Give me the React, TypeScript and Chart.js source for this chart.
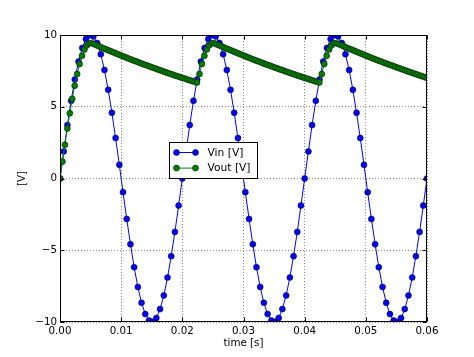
import React, { useEffect, useRef } from 'react';
import { Chart, registerables } from 'chart.js';

Chart.register(...registerables);

// time samples of the input voltage [s]
const vinTime = [
  0, 0.00061, 0.00121, 0.00182, 0.00242, 0.00303, 0.00364, 0.00424, 0.00485, 0.00545,
  0.00606, 0.00667, 0.00727, 0.00788, 0.00848, 0.00909, 0.0097, 0.0103, 0.01091, 0.01152,
  0.01212, 0.01273, 0.01333, 0.01394, 0.01455, 0.01515, 0.01576, 0.01636, 0.01697, 0.01758,
  0.01818, 0.01879, 0.01939, 0.02, 0.02061, 0.02121, 0.02182, 0.02242, 0.02303, 0.02364,
  0.02424, 0.02485, 0.02545, 0.02606, 0.02667, 0.02727, 0.02788, 0.02848, 0.02909, 0.0297,
  0.0303, 0.03091, 0.03152, 0.03212, 0.03273, 0.03333, 0.03394, 0.03455, 0.03515, 0.03576,
  0.03636, 0.03697, 0.03758, 0.03818, 0.03879, 0.03939, 0.04, 0.04061, 0.04121, 0.04182,
  0.04242, 0.04303, 0.04364, 0.04424, 0.04485, 0.04545, 0.04606, 0.04667, 0.04727, 0.04788,
  0.04848, 0.04909, 0.0497, 0.0503, 0.05091, 0.05152, 0.05212, 0.05273, 0.05333, 0.05394,
  0.05455, 0.05515, 0.05576, 0.05636, 0.05697, 0.05758, 0.05818, 0.05879, 0.05939, 0.06,
];

// input voltage [V]
const vinValues = [
  0, 1.89, 3.72, 5.41, 6.9, 8.15, 9.1, 9.72, 9.99, 9.9, 9.45, 8.66, 7.56, 6.18, 4.58, 2.82, 0.95,
  -0.95, -2.82, -4.58, -6.18, -7.56, -8.66, -9.45, -9.9, -9.99, -9.72, -9.1, -8.15, -6.9, -5.41, -3.72, -1.89,
  0, 1.89, 3.72, 5.41, 6.9, 8.15, 9.1, 9.72, 9.99, 9.9, 9.45, 8.66, 7.56, 6.18, 4.58, 2.82, 0.95,
  -0.95, -2.82, -4.58, -6.18, -7.56, -8.66, -9.45, -9.9, -9.99, -9.72, -9.1, -8.15, -6.9, -5.41, -3.72, -1.89,
  0, 1.89, 3.72, 5.41, 6.9, 8.15, 9.1, 9.72, 9.99, 9.9, 9.45, 8.66, 7.56, 6.18, 4.58, 2.82, 0.95,
  -0.95, -2.82, -4.58, -6.18, -7.56, -8.66, -9.45, -9.9, -9.99, -9.72, -9.1, -8.15, -6.9, -5.41, -3.72, -1.89,
  0,
];

// time samples of the output voltage [s]
const voutTime = [
  0, 0.0004, 0.0008, 0.0012, 0.0016, 0.002, 0.0024, 0.0028, 0.0032, 0.0036,
  0.004, 0.0044, 0.0048, 0.0052, 0.0056, 0.006, 0.0064, 0.0068, 0.0072, 0.0076,
  0.008, 0.0084, 0.0088, 0.0092, 0.0096, 0.01, 0.0104, 0.0108, 0.0112, 0.0116,
  0.012, 0.0124, 0.0128, 0.0132, 0.0136, 0.014, 0.0144, 0.0148, 0.0152, 0.0156,
  0.016, 0.0164, 0.0168, 0.0172, 0.0176, 0.018, 0.0184, 0.0188, 0.0192, 0.0196,
  0.02, 0.0204, 0.0208, 0.0212, 0.0216, 0.022, 0.0224, 0.0228, 0.0232, 0.0236,
  0.024, 0.0244, 0.0248, 0.0252, 0.0256, 0.026, 0.0264, 0.0268, 0.0272, 0.0276,
  0.028, 0.0284, 0.0288, 0.0292, 0.0296, 0.03, 0.0304, 0.0308, 0.0312, 0.0316,
  0.032, 0.0324, 0.0328, 0.0332, 0.0336, 0.034, 0.0344, 0.0348, 0.0352, 0.0356,
  0.036, 0.0364, 0.0368, 0.0372, 0.0376, 0.038, 0.0384, 0.0388, 0.0392, 0.0396,
  0.04, 0.0404, 0.0408, 0.0412, 0.0416, 0.042, 0.0424, 0.0428, 0.0432, 0.0436,
  0.044, 0.0444, 0.0448, 0.0452, 0.0456, 0.046, 0.0464, 0.0468, 0.0472, 0.0476,
  0.048, 0.0484, 0.0488, 0.0492, 0.0496, 0.05, 0.0504, 0.0508, 0.0512, 0.0516,
  0.052, 0.0524, 0.0528, 0.0532, 0.0536, 0.054, 0.0544, 0.0548, 0.0552, 0.0556,
  0.056, 0.0564, 0.0568, 0.0572, 0.0576, 0.058, 0.0584, 0.0588, 0.0592, 0.0596,
  0.06,
];

// output voltage [V]
const voutValues = [
  0, 1.18, 2.35, 3.48, 4.55, 5.55, 6.47, 7.28, 7.98, 8.55,
  8.99, 9.28, 9.43, 9.43, 9.36, 9.28, 9.21, 9.13, 9.06, 8.99,
  8.92, 8.85, 8.78, 8.71, 8.64, 8.57, 8.5, 8.43, 8.36, 8.3,
  8.23, 8.17, 8.1, 8.04, 7.97, 7.91, 7.85, 7.78, 7.72, 7.66,
  7.6, 7.54, 7.48, 7.42, 7.36, 7.3, 7.24, 7.18, 7.13, 7.07,
  7.01, 6.96, 6.9, 6.85, 6.79, 6.74, 6.69, 7.28, 7.98, 8.55,
  8.99, 9.28, 9.43, 9.43, 9.36, 9.28, 9.21, 9.13, 9.06, 8.99,
  8.92, 8.85, 8.78, 8.71, 8.64, 8.57, 8.5, 8.43, 8.36, 8.3,
  8.23, 8.17, 8.1, 8.04, 7.97, 7.91, 7.85, 7.78, 7.72, 7.66,
  7.6, 7.54, 7.48, 7.42, 7.36, 7.3, 7.24, 7.18, 7.13, 7.07,
  7.01, 6.96, 6.9, 6.85, 6.79, 6.74, 6.69, 7.28, 7.98, 8.55,
  8.99, 9.28, 9.43, 9.43, 9.36, 9.28, 9.21, 9.13, 9.06, 8.99,
  8.92, 8.85, 8.78, 8.71, 8.64, 8.57, 8.5, 8.43, 8.36, 8.3,
  8.23, 8.17, 8.1, 8.04, 7.97, 7.91, 7.85, 7.78, 7.72, 7.66,
  7.6, 7.54, 7.48, 7.42, 7.36, 7.3, 7.24, 7.18, 7.13, 7.07,
  7.01,
];

const seriesLabels = ['Vin [V]', 'Vout [V]'];
const xTicks = [0, 0.01, 0.02, 0.03, 0.04, 0.05, 0.06];
const xTickLabels = ['0.00', '0.01', '0.02', '0.03', '0.04', '0.05', '0.06'];
const yTicks = [-10, -5, 0, 5, 10];
const yTickLabels = ['\u221210', '\u22125', '0', '5', '10'];

const FONT = "'DejaVu Sans', sans-serif";
const FS = 10.3;

const framePlugin = {
  id: 'mplFrame',
  afterDatasetsDraw(chart: any) {
    const ctx = chart.ctx as CanvasRenderingContext2D;
    const { left, right, top, bottom } = chart.chartArea;
    ctx.save();
    ctx.strokeStyle = '#000';
    ctx.lineWidth = 1;
    const L = Math.round(left) + 0.5;
    const R = Math.round(right) - 0.5;
    const T = Math.round(top) + 0.5;
    const B = Math.round(bottom) - 0.5;
    ctx.beginPath();
    const xs = chart.scales.x;
    const ys = chart.scales.y;
    xs.ticks.forEach((t: any) => {
      const px = Math.round(xs.getPixelForValue(t.value)) + 0.5;
      ctx.moveTo(px, B);
      ctx.lineTo(px, B - 4);
      ctx.moveTo(px, T);
      ctx.lineTo(px, T + 4);
    });
    ys.ticks.forEach((t: any) => {
      const py = Math.round(ys.getPixelForValue(t.value)) + 0.5;
      ctx.moveTo(L, py);
      ctx.lineTo(L + 4, py);
      ctx.moveTo(R, py);
      ctx.lineTo(R - 4, py);
    });
    ctx.stroke();
    ctx.strokeRect(L, T, R - L, B - T);
    ctx.restore();
  },
  afterDraw(chart: any) {
    const ctx = chart.ctx as CanvasRenderingContext2D;
    const { left, top } = chart.chartArea;
    const bx = Math.round(left + 109) + 0.5;
    const by = Math.round(top + 107) + 0.5;
    const bw = 88;
    const bh = 36;
    ctx.save();
    ctx.fillStyle = '#fff';
    ctx.fillRect(bx, by, bw, bh);
    ctx.strokeStyle = '#000';
    ctx.lineWidth = 1;
    ctx.strokeRect(bx, by, bw, bh);
    chart.data.datasets.forEach((ds: any, i: number) => {
      const y = by + 10 + i * 15.6;
      const x0 = bx + 7;
      const x1 = bx + 26;
      ctx.strokeStyle = ds.borderColor;
      ctx.lineWidth = 1;
      ctx.beginPath();
      ctx.moveTo(x0, y);
      ctx.lineTo(x1, y);
      ctx.stroke();
      [x0, x1].forEach((mx) => {
        ctx.beginPath();
        ctx.arc(mx, y, 3, 0, Math.PI * 2);
        ctx.fillStyle = ds.pointBackgroundColor;
        ctx.fill();
        ctx.strokeStyle = '#000';
        ctx.lineWidth = 0.5;
        ctx.stroke();
      });
      ctx.fillStyle = '#000';
      ctx.font = `${FS + 0.4}px ${FONT}`;
      ctx.textBaseline = 'middle';
      ctx.textAlign = 'left';
      ctx.fillText(ds.label, bx + 38, y + 0.5);
    });
    ctx.restore();
  },
};

export default function App() {
  const ref = useRef<HTMLCanvasElement | null>(null);

  useEffect(() => {
    document.body.style.margin = '0';
    if (!ref.current) return;
    Chart.defaults.font.family = FONT;
    Chart.defaults.font.size = FS;
    Chart.defaults.color = '#000';

    const chart = new Chart(ref.current, {
      type: 'line',
      data: {
        datasets: [
          {
            label: seriesLabels[0],
            data: vinTime.map((t, i) => ({ x: t, y: vinValues[i] })),
            borderColor: '#0000ff',
            backgroundColor: '#0000ff',
            pointBackgroundColor: '#0000ff',
            pointBorderColor: '#000',
            pointBorderWidth: 0.5,
            pointRadius: 3,
            borderWidth: 1,
            tension: 0,
            clip: 0,
            order: 1,
          },
          {
            label: seriesLabels[1],
            data: voutTime.map((t, i) => ({ x: t, y: voutValues[i] })),
            borderColor: '#008000',
            backgroundColor: '#008000',
            pointBackgroundColor: '#008000',
            pointBorderColor: '#000',
            pointBorderWidth: 0.5,
            pointRadius: 3,
            borderWidth: 1,
            tension: 0,
            clip: 0,
            order: 0,
          },
        ],
      } as any,
      options: {
        animation: false,
        responsive: true,
        maintainAspectRatio: false,
        layout: { padding: { left: 12, right: 47, top: 35, bottom: 3 } },
        plugins: {
          legend: { display: false },
          tooltip: { enabled: false },
        },
        scales: {
          x: {
            type: 'linear',
            min: 0,
            max: 0.06,
            afterBuildTicks: (scale: any) => {
              scale.ticks = xTicks.map((v) => ({ value: v }));
            },
            afterFit: (scale: any) => {
              scale.height = 32;
            },
            ticks: {
              callback: (_v: any, i: number) => xTickLabels[i],
              padding: 3,
              maxRotation: 0,
              font: { family: FONT, size: FS },
              color: '#000',
            },
            grid: {
              drawTicks: false,
              color: 'rgba(0,0,0,0.45)',
              lineWidth: 1,
            },
            border: { display: false, dash: [1, 2] },
            title: {
              display: true,
              text: 'time [s]',
              font: { family: FONT, size: FS },
              color: '#000',
              padding: { top: 4, bottom: 4 },
            },
          },
          y: {
            type: 'linear',
            min: -10,
            max: 10,
            afterBuildTicks: (scale: any) => {
              scale.ticks = yTicks.map((v) => ({ value: v }));
            },
            afterFit: (scale: any) => {
              scale.width = 48;
            },
            ticks: {
              callback: (_v: any, i: number) => yTickLabels[i],
              padding: 3,
              font: { family: FONT, size: FS },
              color: '#000',
            },
            grid: {
              drawTicks: false,
              color: 'rgba(0,0,0,0.45)',
              lineWidth: 1,
            },
            border: { display: false, dash: [1, 2] },
            title: {
              display: true,
              text: '[V]',
              font: { family: FONT, size: FS },
              color: '#000',
              padding: { top: 4, bottom: 4 },
            },
          },
        },
      } as any,
      plugins: [framePlugin],
    });
    return () => chart.destroy();
  }, []);

  return (
    <div style={{ position: 'relative', width: 474, height: 357 }}>
      <canvas ref={ref} />
    </div>
  );
}
